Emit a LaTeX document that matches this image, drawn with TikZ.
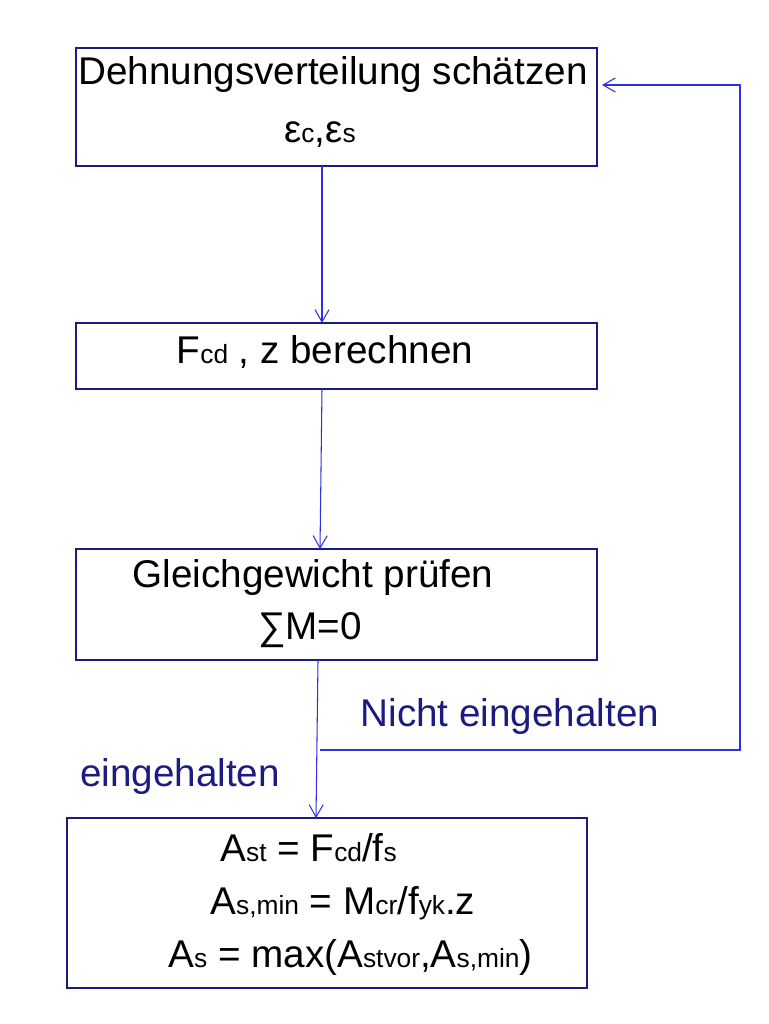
\documentclass[tikz,border=0pt]{standalone}
\usepackage{fontspec}
\setmainfont{Liberation Sans}
\usetikzlibrary{arrows.meta}
\definecolor{navy}{HTML}{1C1C80}
\definecolor{lblue}{HTML}{3030E0}
\newcommand{\sm}[1]{{\fontsize{15}{15}\selectfont #1}}
\begin{document}
\begin{tikzpicture}[x=0.02cm,y=-0.02cm,
  box/.style={draw=navy,line width=1.4pt},
  txt/.style={font=\fontsize{22}{26}\selectfont,inner sep=0pt},
  lbl/.style={font=\fontsize{22}{26}\selectfont,text=navy,inner sep=0pt},
  conn/.style={draw=lblue,line width=0.6pt,-{Straight Barb[length=7pt,width=8pt]}}]
\useasboundingbox (0,0) rectangle (768,1024);
\draw[box] (76,48) rectangle (597,166);
\draw[box] (76,323) rectangle (597,389);
\draw[box] (76,549) rectangle (597,660);
\draw[box] (67,818) rectangle (587,988);
\coordinate (b1s) at (322,166); \coordinate (b2n) at (322,323);
\coordinate (b2s) at (322,389); \coordinate (b3n) at (320,549);
\coordinate (b3s) at (318,660); \coordinate (b4n) at (316,818);
\coordinate (j) at (320,750); \coordinate (r1) at (740,750);
\coordinate (r2) at (740,85); \coordinate (b1e) at (602,85);
\node[txt] (t1) at (333,75) {Dehnungsverteilung schätzen};
\node[txt] (t2) at (320,135) {ε\sm{c},ε\sm{s}};
\node[txt] (t3) at (325,352) {F\sm{cd} , z berechnen};
\node[txt] (t4) at (313,578) {Gleichgewicht prüfen};
\node[txt] (t5) at (310,630) {∑M=0};
\node[txt,anchor=west] (t6) at (220,848) {A\sm{st} = F\sm{cd}/f\sm{s}};
\node[txt,anchor=west] (t7) at (210,903) {A\sm{s,min} = M\sm{cr}/f\sm{yk}.z};
\node[txt,anchor=west] (t8) at (168,957) {A\sm{s} = max(A\sm{stvor},A\sm{s,min})};
\node[lbl] (l1) at (510,716) {Nicht eingehalten};
\node[lbl] (l2) at (180,776) {eingehalten};
\draw[conn] (b1s) -- (b2n);
\draw[conn] (b2s) -- (b3n);
\draw[conn] (b3s) -- (b4n);
\draw[conn] (j) -- (r1) -- (r2) -- (b1e);
\end{tikzpicture}
\end{document}
